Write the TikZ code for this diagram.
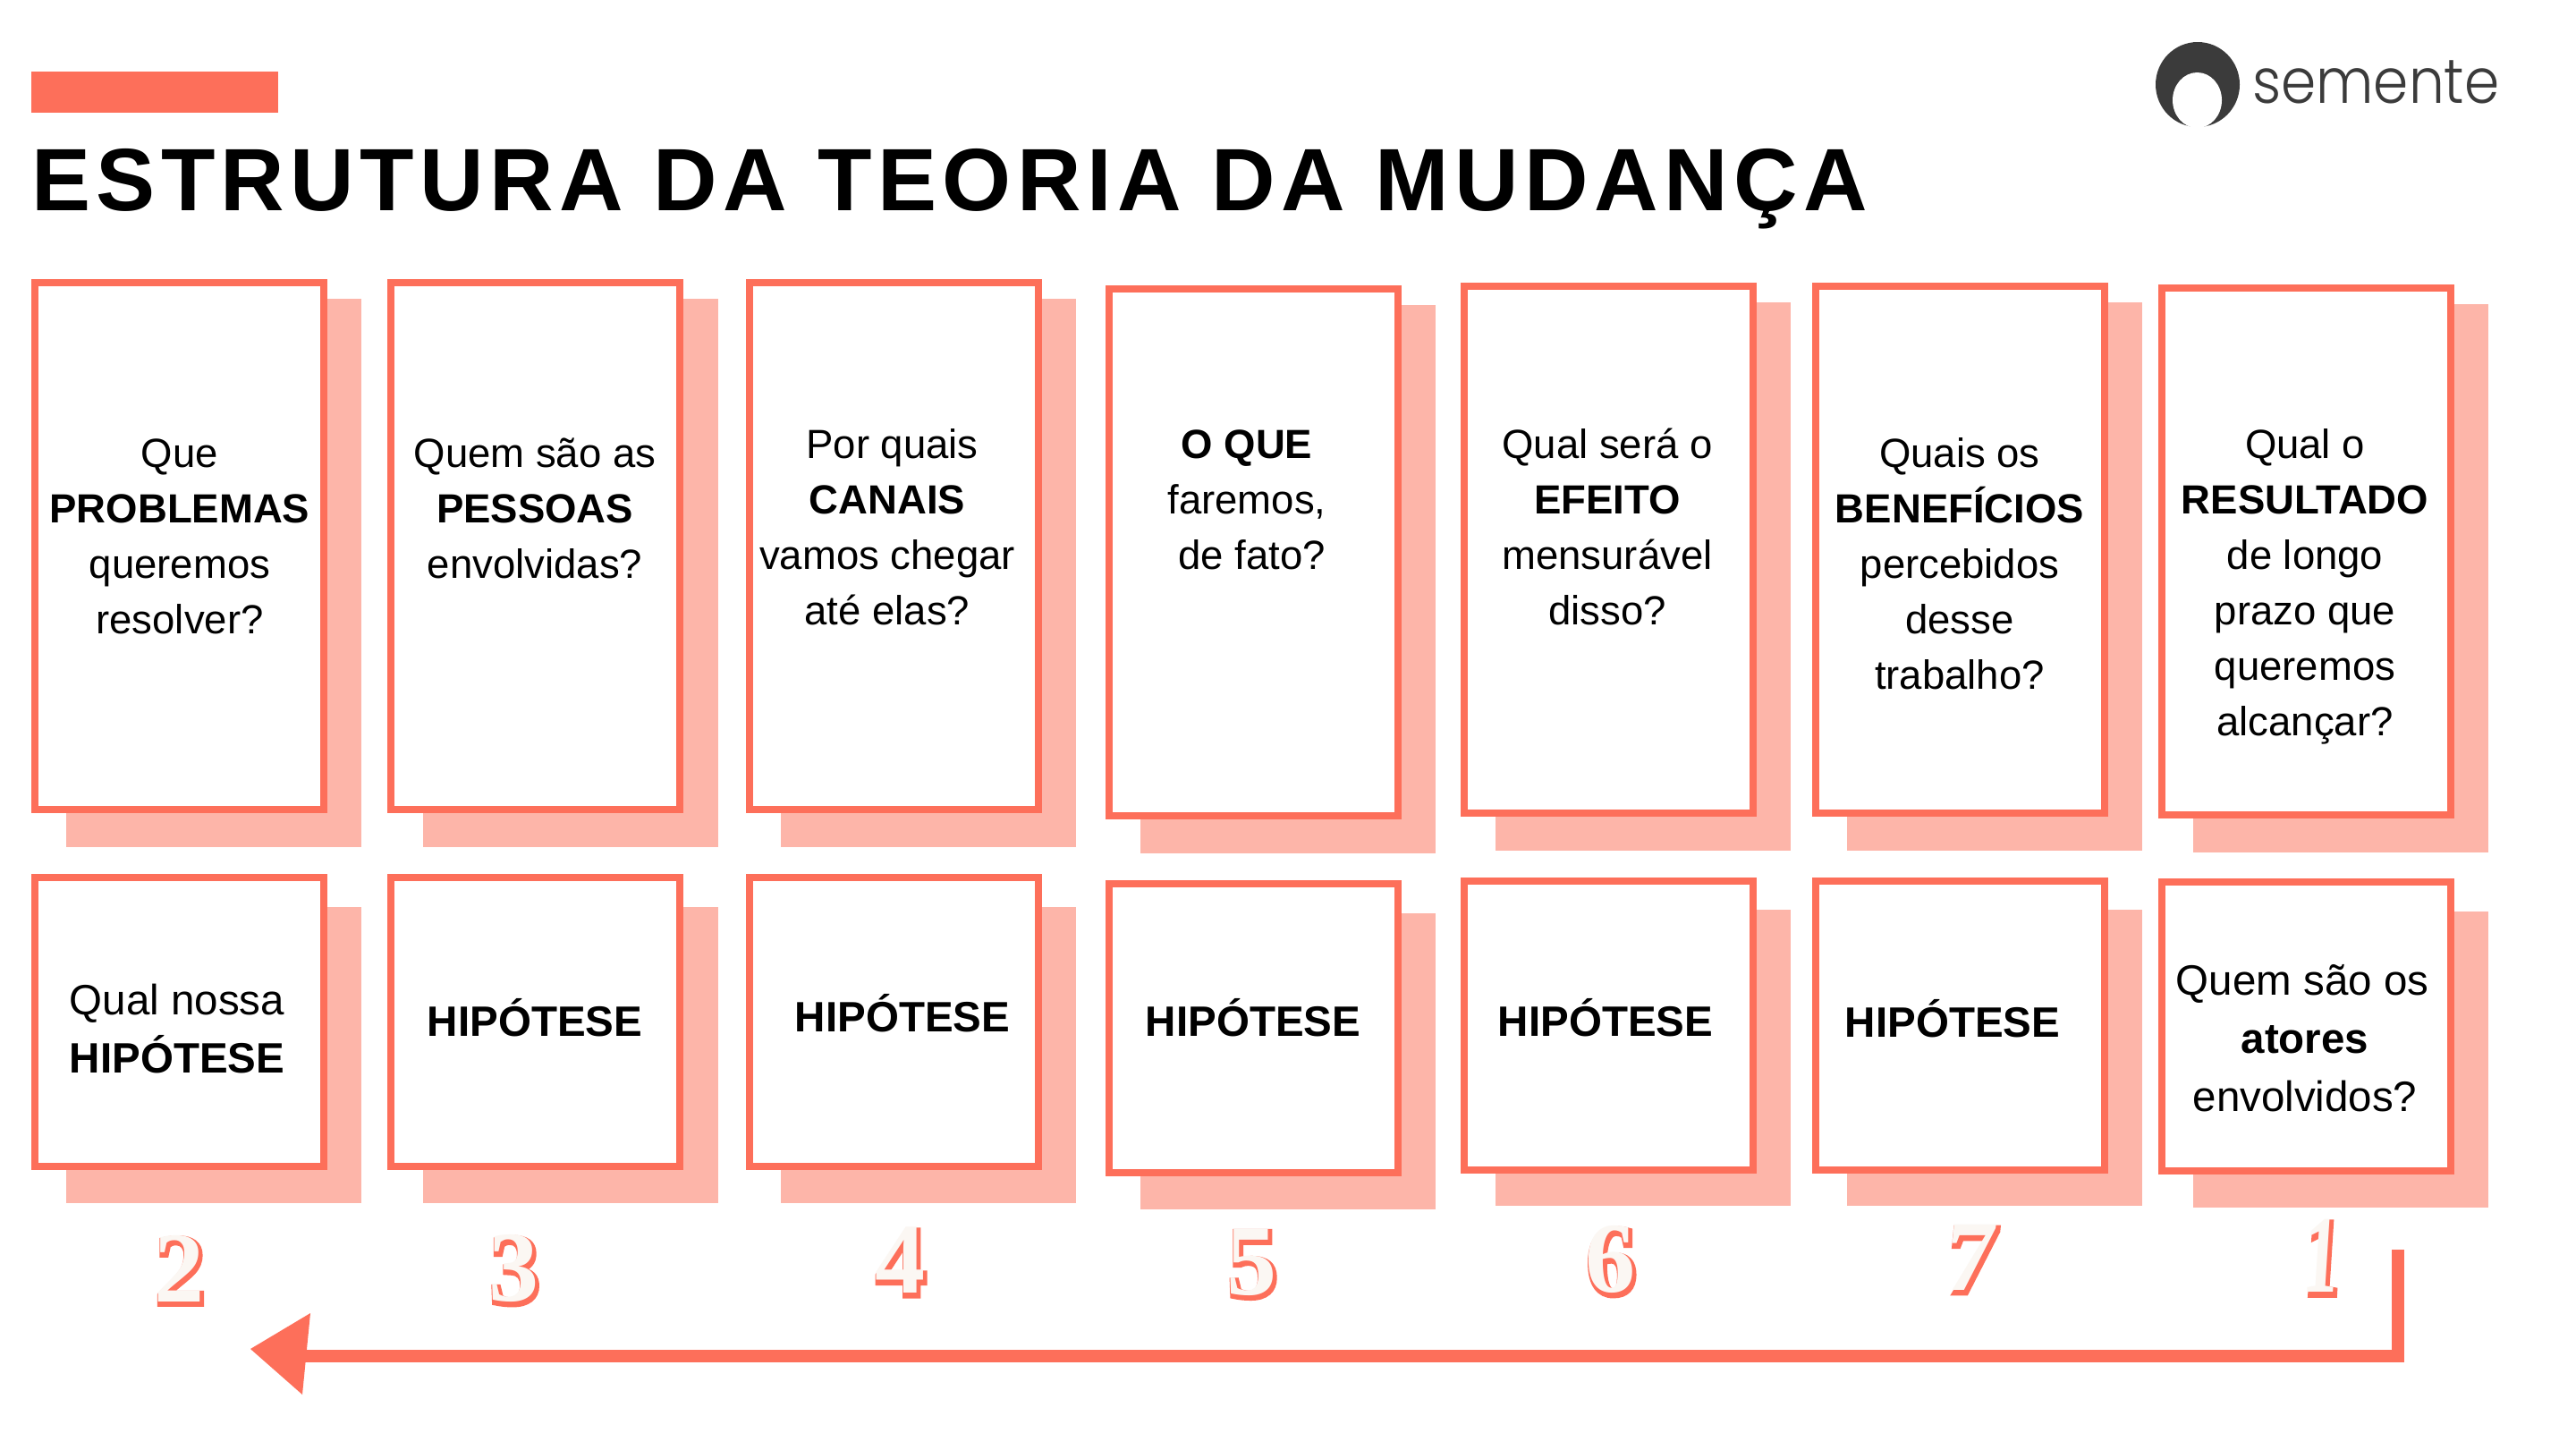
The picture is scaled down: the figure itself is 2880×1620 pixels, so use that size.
\documentclass[tikz,border=0pt]{standalone}
\usepackage{fontspec}
\setmainfont{Liberation Sans}
\newfontfamily\logofont{Poppins Light}
\newfontfamily\digitfat{Liberation Serif Bold}[FakeBold=5]
\newfontfamily\digitthin{Liberation Serif Bold}
\definecolor{coral}{HTML}{FD6F5A}
\definecolor{blush}{HTML}{FDB5A9}
\definecolor{cream}{HTML}{FBF7F3}
\definecolor{logogray}{HTML}{3B3B3B}
\tikzset{
  tallcard/.style={draw=coral,line width=8pt,fill=white,minimum width=323pt,minimum height=589pt,inner sep=0pt},
  shortcard/.style={draw=coral,line width=8pt,fill=white,minimum width=323pt,minimum height=323pt,inner sep=0pt},
  tallshade/.style={fill=blush,minimum width=330pt,minimum height=613pt,inner sep=0pt},
  shortshade/.style={fill=blush,minimum width=330pt,minimum height=331pt,inner sep=0pt},
  asktext/.style={align=center,anchor=north,inner sep=0pt,font=\fontsize{45.5}{62}\selectfont},
  hypotext/.style={align=center,anchor=north,inner sep=0pt,font=\fontsize{47.5}{65}\selectfont},
  digitback/.style={text=coral,inner sep=0pt,font=\digitfat\fontsize{112}{112}\selectfont},
  digitfront/.style={text=cream,inner sep=0pt,font=\digitthin\fontsize{112}{112}\selectfont},
}
\begin{document}
\begin{tikzpicture}[x=1pt,y=-1pt]
    \useasboundingbox (0,0) rectangle (2880,1620);
    \fill[white] (0,0) rectangle (2880,1620);
    \fill[coral] (35,80) rectangle (311,126);
    \node[anchor=base west,inner sep=0pt,font=\fontsize{99}{99}\selectfont\bfseries\addfontfeature{LetterSpace=6.5}] (title) at (35,235) {ESTRUTURA DA TEORIA DA MUDANÇA};
    % logo
    \fill[logogray] (2457,94.5) ellipse (47 and 47.5);
    \fill[white] (2456.5,112) ellipse (27.5 and 31);
    \fill[white] (2451,130) rectangle (2463,145);
    \node[anchor=base west,inner sep=0pt,xscale=0.9,text=logogray,font=\logofont\fontsize{70}{70}\selectfont] (brand) at (2518,115) {semente};
    % upper row
    \node[tallshade] (s1) at (239,640.5) {};
    \node[tallshade] (s2) at (637.5,640.5) {};
    \node[tallshade] (s3) at (1038,640.5) {};
    \node[tallshade] (s4) at (1440,647.5) {};
    \node[tallshade] (s5) at (1837,644.5) {};
    \node[tallshade] (s6) at (2230,644.5) {};
    \node[tallshade] (s7) at (2617,646.5) {};
    \node[tallcard] (c1) at (200,610.5) {};
    \node[tallcard] (c2) at (598.5,610.5) {};
    \node[tallcard] (c3) at (999,610.5) {};
    \node[tallcard] (c4) at (1401,617.5) {};
    \node[tallcard] (c5) at (1798,614.5) {};
    \node[tallcard] (c6) at (2191,614.5) {};
    \node[tallcard] (c7) at (2578,616.5) {};
    \node[asktext] (q1) at (201,478.5) {\strut Que\\\textbf{PROBLEMAS}\\queremos\\resolver?};
    \node[asktext] (q2) at (598,478.5) {\strut Quem são as\\\textbf{PESSOAS}\\envolvidas?};
    \node[asktext] (q3) at (992,468.5) {\strut\hspace*{11pt}Por quais\\\textbf{CANAIS}\\vamos chegar\\até elas?};
    \node[asktext] (q4) at (1394,468.5) {\strut\textbf{O QUE}\\faremos,\\\hspace*{11pt}de fato?};
    \node[asktext] (q5) at (1797,468.5) {\strut Qual será o\\\textbf{EFEITO}\\mensurável\\disso?};
    \node[asktext] (q6) at (2191,478.5) {\strut Quais os\\\textbf{BENEFÍCIOS}\\percebidos\hspace*{11pt}\\desse\hspace*{11pt}\\trabalho?};
    \node[asktext] (q7) at (2577,468.5) {\strut Qual o\\\textbf{RESULTADO}\\de longo\\prazo que\\queremos\\alcançar?};
    % lower row
    \node[shortshade] (t1) at (239,1179) {};
    \node[shortshade] (t2) at (637.5,1179) {};
    \node[shortshade] (t3) at (1038,1179) {};
    \node[shortshade] (t4) at (1440,1186) {};
    \node[shortshade] (t5) at (1837,1182.5) {};
    \node[shortshade] (t6) at (2230,1182.5) {};
    \node[shortshade] (t7) at (2617,1184) {};
    \node[shortcard] (d1) at (200,1142.5) {};
    \node[shortcard] (d2) at (598.5,1142.5) {};
    \node[shortcard] (d3) at (999,1142.5) {};
    \node[shortcard] (d4) at (1401,1149.5) {};
    \node[shortcard] (d5) at (1798,1146) {};
    \node[shortcard] (d6) at (2191,1146) {};
    \node[shortcard] (d7) at (2578,1147.5) {};
    \node[hypotext] (h1) at (198,1088.5) {\strut Qual nossa\\\textbf{HIPÓTESE}};
    \node[hypotext] (h2) at (598,1113) {\strut\textbf{HIPÓTESE}};
    \node[hypotext] (h3) at (1009,1108) {\strut\textbf{HIPÓTESE}};
    \node[hypotext] (h4) at (1401,1113) {\strut\textbf{HIPÓTESE}};
    \node[hypotext] (h5) at (1795,1113) {\strut\textbf{HIPÓTESE}};
    \node[hypotext] (h6) at (2183,1114) {\strut\textbf{HIPÓTESE}};
    \node[hypotext] (h7) at (2577,1067) {\strut Quem são os\hspace*{6pt}\\\textbf{atores}\\envolvidos?};
    % numbers
    \node[digitback] (n2b) at (202,1421) {2};
    \node[digitfront] (n2) at (200,1418) {2};
    \node[digitback] (n3b) at (576,1421) {3};
    \node[digitfront] (n3) at (574,1418) {3};
    \node[digitback] (n4b) at (1008,1412) {4};
    \node[digitfront] (n4) at (1006,1409) {4};
    \node[digitback] (n5b) at (1401,1414) {5};
    \node[digitfront] (n5) at (1399,1411) {5};
    \node[digitback] (n6b) at (1802,1411) {6};
    \node[digitfront] (n6) at (1800,1408) {6};
    \node[digitback,xslant=0.1] (n7b) at (2205,1409) {7};
    \node[digitfront,xslant=0.1] (n7) at (2203,1406) {7};
    \node[digitback,xscale=0.7,yscale=1.1,xslant=0.1] (n1b) at (2598,1407) {1};
    \node[digitfront,xscale=0.7,yscale=1.1,xslant=0.1] (n1) at (2596,1404) {1};
    % arrow
    \coordinate (start) at (2681,1397);
    \coordinate (corner) at (2681,1516);
    \coordinate (finish) at (340,1516);
    \draw[coral,line width=14pt] (start) -- (corner) -- (finish);
    \fill[coral] (280,1508) -- (347,1468) -- (338,1559) -- cycle;
\end{tikzpicture}
\end{document}
